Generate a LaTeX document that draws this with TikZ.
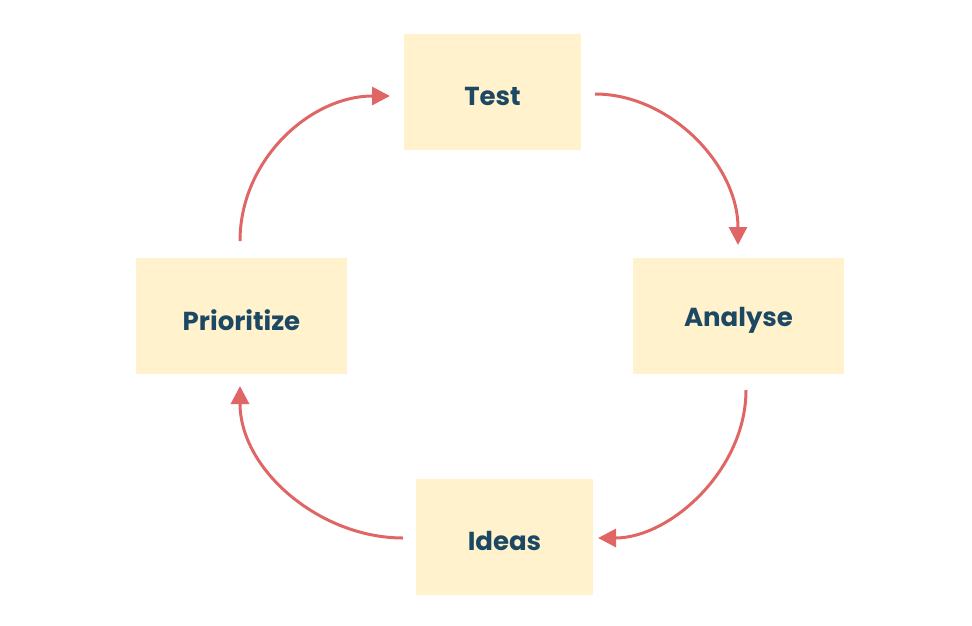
\documentclass[tikz,border=0pt]{standalone}
\usepackage{fontspec}
\setmainfont{Poppins}
\usetikzlibrary{arrows.meta}
\definecolor{boxfill}{HTML}{FFF2CC}
\definecolor{txt}{HTML}{1C4864}
\definecolor{arr}{HTML}{E06666}
\begin{document}
\begin{tikzpicture}[x=1pt,y=-1pt,
  stage/.style={fill=boxfill,draw=none,inner sep=0pt,text=txt},
  lbl/.style={font=\fontsize{26}{30}\selectfont\bfseries,text=txt,inner sep=0pt},
  flow/.style={draw=arr,line width=3pt,-{Triangle[length=18pt,width=18pt]}}]
\useasboundingbox (0,0) rectangle (972,625);
\node[stage,minimum width=177pt,minimum height=116pt] (test) at (492.5,92) {};
\node[stage,minimum width=211pt,minimum height=116pt] (ana) at (738.5,316) {};
\node[stage,minimum width=211pt,minimum height=116pt] (pri) at (241.5,316) {};
\node[stage,minimum width=177pt,minimum height=116pt] (ide) at (504.5,537) {};
\node[lbl] (testl) at ([yshift=-4pt]test.center) {Test};
\node[lbl] (anal) at ([yshift=-4pt]ana.center) {Analyse};
\node[lbl] (pril) at ([yshift=-4pt]pri.center) {Prioritize};
\node[lbl] (idel) at ([yshift=-4pt]ide.center) {Ideas};
\coordinate (a1) at (240,241); \coordinate (b1) at (390,96);
\coordinate (a2) at (595,94); \coordinate (b2) at (738,245);
\coordinate (a3) at (746,390); \coordinate (b3) at (598,538);
\coordinate (a4) at (403,538); \coordinate (b4) at (240,386);
\draw[flow] (a1) .. controls (240,160) and (310,96) .. (b1);
\draw[flow] (a2) .. controls (670,94) and (738,165) .. (b2);
\draw[flow] (a3) .. controls (746,470) and (670,538) .. (b3);
\draw[flow] (a4) .. controls (320,538) and (240,470) .. (b4);
\end{tikzpicture}
\end{document}
